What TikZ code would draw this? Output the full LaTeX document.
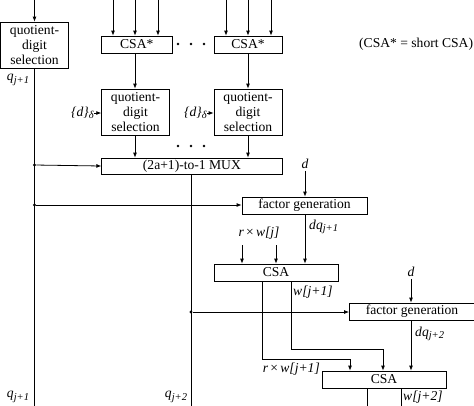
\documentclass[tikz,border=0pt]{standalone}
\usepackage{fontspec}
\setmainfont{Liberation Serif}
\usetikzlibrary{arrows.meta}
\newcommand{\mysub}[1]{\raisebox{-0.4ex}{\fontsize{10.5}{10.5}\selectfont\textit{#1}}}
\begin{document}
\begin{tikzpicture}[x=1pt,y=-1pt,
  box/.style={draw,line width=0.8pt,inner sep=0pt,align=center,font=\fontsize{13.6}{15}\selectfont},
  lbl/.style={inner sep=0pt,font=\fontsize{13.6}{15}\selectfont},
  arr/.style={-{Latex[length=5pt,width=4pt]},line width=0.8pt},
  ln/.style={line width=0.8pt},
  jdot/.style={circle,fill,inner sep=0pt,minimum size=3.2pt},
  edot/.style={circle,fill,inner sep=0pt,minimum size=2.6pt}]
\useasboundingbox (0,0) rectangle (474,405);
% boxes
\node[box,minimum width=68pt,minimum height=46pt] (qL) at (34.5,45) {quotient-\\digit\\selection};
\node[box,minimum width=70.5pt,minimum height=17pt] (csa1) at (136.8,44.5) {CSA*};
\node[box,minimum width=68pt,minimum height=17pt] (csa2) at (248,44.5) {CSA*};
\node[box,minimum width=67.6pt,minimum height=46pt] (qds1) at (135.5,112) {quotient-\\digit\\selection};
\node[box,minimum width=68pt,minimum height=46pt] (qds2) at (248,112) {quotient-\\digit\\selection};
\node[box,minimum width=180.3pt,minimum height=16pt] (mux) at (191.9,166) {(2a+1)-to-1 MUX};
\node[box,minimum width=125pt,minimum height=17pt] (fg1) at (304.5,205.5) {factor generation};
\node[box,minimum width=124pt,minimum height=17pt] (csa3) at (276,272.5) {CSA};
\node[box,minimum width=125pt,minimum height=17pt] (fg2) at (412,311.5) {factor generation};
\node[box,minimum width=124pt,minimum height=17pt] (csa4) at (384,379.5) {CSA};
% ellipsis dots
\node[edot] (e1) at (178,44) {};
\node[edot] (e2) at (191,44) {};
\node[edot] (e3) at (204,44) {};
\node[edot] (e4) at (178,146) {};
\node[edot] (e5) at (191,146) {};
\node[edot] (e6) at (204,146) {};
% labels
\node[lbl,anchor=west] (note) at (359,44.5) {(CSA* = short CSA)};
\node[lbl] (qa) at (18,80) {\textit{q}\mysub{j+1}};
\node[lbl,anchor=east] (dd1) at (94,113) {\textit{\{d\}}\mysub{δ}};
\node[lbl,anchor=east] (dd2) at (207,113) {\textit{\{d\}}\mysub{δ}};
\node[lbl] (d1) at (305,164) {\textit{d}};
\node[lbl,anchor=west] (dq1) at (309,227) {\textit{dq}\mysub{j+1}};
\node[lbl] (rw1) at (259,233) {\textit{r}\,×\,\textit{w[j]}};
\node[lbl,anchor=west] (w1) at (293,292) {\textit{w[j+1]}};
\node[lbl] (d2) at (411,272) {\textit{d}};
\node[lbl,anchor=west] (dq2) at (415,334) {\textit{dq}\mysub{j+2}};
\node[lbl,anchor=east] (rw2) at (320,369) {\textit{r}\,×\,\textit{w[j+1]}};
\node[lbl,anchor=west] (w2) at (403,397) {\textit{w[j+2]}};
\node[lbl] (qb) at (18,397) {\textit{q}\mysub{j+1}};
\node[lbl] (qc) at (176,397) {\textit{q}\mysub{j+2}};
% coordinates
\coordinate (t0) at (34.5,0);
\coordinate (t1) at (113,0);
\coordinate (t2) at (135,0);
\coordinate (t3) at (158,0);
\coordinate (t4) at (226,0);
\coordinate (t5) at (248,0);
\coordinate (t6) at (271,0);
\coordinate (b0) at (34.5,406);
\coordinate (b1) at (191,406);
\coordinate (b2) at (367,406);
\coordinate (b3) at (401,406);
\node[jdot] (j1) at (34.5,165) {};
\node[jdot] (j2) at (34.5,205) {};
\node[jdot] (j3) at (191,312) {};
\coordinate (r1) at (242,245);
\coordinate (r2) at (276,245);
\coordinate (o1) at (262,281);
\coordinate (o2) at (291,281);
\coordinate (k1) at (262,359);
\coordinate (k2) at (291,349);
\coordinate (m1) at (350,359);
\coordinate (m2) at (383,349);
% connectors
\draw[arr] (t0) -- (qL.north);
\foreach \t in {t1,t2,t3} \draw[arr] (\t) -- (\t |- csa1.north);
\foreach \t in {t4,t5,t6} \draw[arr] (\t) -- (\t |- csa2.north);
\draw[arr] (csa1.south -| t2) -- (qds1.north -| t2);
\draw[arr] (csa2.south) -- (qds2.north);
\draw[arr] (qds1.south -| t2) -- (mux.north -| t2);
\draw[arr] (qds2.south) -- (mux.north -| qds2);
\draw[arr] (dd1.east) -- (qds1.west |- dd1.east);
\draw[arr] (dd2.east) -- (qds2.west |- dd2.east);
\draw[ln] (qL.south) -- (b0);
\draw[arr] (j1) -- (mux.west);
\draw[arr] (j2) -- (fg1.west |- j2);
\draw[ln] (mux.south -| b1) -- (b1);
\draw[arr] (j3) -- (fg2.west |- j3);
\draw[arr] (d1.south) ++(0,2) -- (fg1.north -| d1);
\draw[arr] (fg1.south -| d1) -- (csa3.north -| d1);
\draw[arr] (r1) -- (r1 |- csa3.north);
\draw[arr] (r2) -- (r2 |- csa3.north);
\draw[ln] (o1) -- (k1) -- (m1);
\draw[arr] (m1) -- (m1 |- csa4.north);
\draw[ln] (o2) -- (k2) -- (m2);
\draw[arr] (m2) -- (m2 |- csa4.north);
\draw[arr] (d2.south) ++(0,2) -- (fg2.north -| d2);
\draw[arr] (fg2.south -| d2) -- (csa4.north -| d2);
\draw[ln] (csa4.south -| b2) -- (b2);
\draw[ln] (csa4.south -| b3) -- (b3);
\end{tikzpicture}
\end{document}
